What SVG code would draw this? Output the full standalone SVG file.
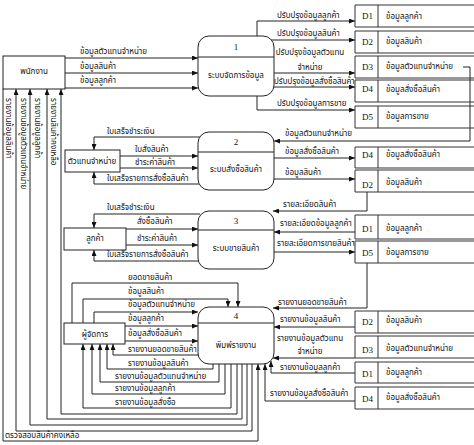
<svg xmlns="http://www.w3.org/2000/svg" width="474" height="445" viewBox="0 0 474 445">
<defs>
<marker id="ah" markerWidth="6" markerHeight="5" refX="6" refY="2.5" orient="auto" markerUnits="userSpaceOnUse"><path d="M0,0 L6,2.5 L0,5 Z" fill="#111"/></marker>
<style>
.ln{fill:none;stroke:#222;stroke-width:1}
.ar{fill:none;stroke:#222;stroke-width:1;marker-end:url(#ah)}
.box{fill:#fff;stroke:#222;stroke-width:1}
.t{font-family:"Noto Sans Thai","Noto Sans",sans-serif;font-size:8px;fill:#111}
.c{text-anchor:middle}
.d{font-family:"Liberation Serif",serif;font-size:9px;fill:#111}
.st{fill:none;stroke:#333;stroke-width:1}
</style>
</defs>
<rect width="474" height="445" fill="#fff"/>

<g id="connectors">
<!-- staff to P1 -->
<path class="ar" d="M65,58 H198"/>
<path class="ar" d="M65,73 H198"/>
<path class="ar" d="M65,88 H198"/>
<text class="t" x="80" y="54">ข้อมูลตัวแทนจำหน่าย</text>
<text class="t" x="80" y="69">ข้อมูลสินค้า</text>
<text class="t" x="80" y="83">ข้อมูลลูกค้า</text>
<!-- P1 to stores -->
<path class="ar" d="M257,36 V21 H355"/>
<path class="ar" d="M271,40 H355"/>
<path class="ar" d="M274,73 H355"/>
<path class="ar" d="M274,87 H355"/>
<path class="ar" d="M257,96 V110 H355"/>
<text class="t" x="277" y="18">ปรับปรุงข้อมูลลูกค้า</text>
<text class="t" x="277" y="36">ปรับปรุงข้อมูลสินค้า</text>
<text class="t c" x="310" y="55">ปรับปรุงข้อมูลตัวแทน</text>
<text class="t c" x="310" y="70">จำหน่าย</text>
<text class="t" x="274" y="84">ปรับปรุงข้อมูลสั่งซื้อสินค้า</text>
<text class="t" x="277" y="106">ปรับปรุงข้อมูลการขาย</text>
<!-- D3 to P2 -->
<path class="ar" d="M463,67 H470 V141 H274"/>
<text class="t" x="285" y="136">ข้อมูลตัวแทนจำหน่าย</text>
<!-- P2 to stores -->
<path class="ar" d="M274,158 H355"/>
<path class="ar" d="M274,179 H355"/>
<text class="t" x="285" y="154">ข้อมูลสั่งซื้อสินค้า</text>
<text class="t" x="285" y="175">ข้อมูลสินค้า</text>
<!-- D2 to P3 -->
<path class="ar" d="M367,192 V211 H273"/>
<text class="t" x="283" y="207">รายละเอียดสินค้า</text>
<!-- P3 stores -->
<path class="ar" d="M355,232 H274"/>
<path class="ar" d="M274,252 H355"/>
<text class="t" x="280" y="226">รายละเอียดข้อมูลลูกค้า</text>
<text class="t" x="277" y="246">รายละเอียดการขายสินค้า</text>
<!-- D5 to P4 -->
<path class="ar" d="M367,263 V308 H273"/>
<text class="t" x="278" y="305">รายงานยอดขายสินค้า</text>
<!-- stores to P4 -->
<path class="ar" d="M355,327 H274"/>
<path class="ar" d="M355,358 H273"/>
<path class="ar" d="M355,373 H271 V361"/>
<path class="ar" d="M355,401 H265 V364"/>
<text class="t" x="280" y="322">รายงานข้อมูลสินค้า</text>
<text class="t c" x="310" y="341">รายงานข้อมูลตัวแทน</text>
<text class="t c" x="310" y="354">จำหน่าย</text>
<text class="t" x="280" y="370">รายงานข้อมูลลูกค้า</text>
<text class="t" x="270" y="396">รายงานข้อมูลสั่งซื้อสินค้า</text>
<!-- agent <-> P2 -->
<path class="ar" d="M200,137 H94 V150"/>
<path class="ar" d="M120,156 H198"/>
<path class="ar" d="M120,168 H198"/>
<path class="ar" d="M199,184 H94 V172"/>
<text class="t" x="107" y="134">ใบเสร็จชำระเงิน</text>
<text class="t" x="135" y="152">ใบสั่งสินค้า</text>
<text class="t" x="135" y="165">ชำระค่าสินค้า</text>
<text class="t" x="107" y="181">ใบเสร็จรายการสั่งซื้อสินค้า</text>
<!-- customer <-> P3 -->
<path class="ar" d="M200,214 H94 V228"/>
<path class="ar" d="M126,229 H198"/>
<path class="ar" d="M126,245 H198"/>
<path class="ar" d="M199,261 H94 V250"/>
<text class="t" x="107" y="210">ใบเสร็จชำระเงิน</text>
<text class="t" x="137" y="224">สั่งซื้อสินค้า</text>
<text class="t" x="137" y="241">ชำระค่าสินค้า</text>
<text class="t" x="107" y="257">ใบเสร็จรายการสั่งซื้อสินค้า</text>
<!-- manager to P4 -->
<path class="ar" d="M72,323 V283 H238 V307"/>
<path class="ar" d="M83,323 V299 H228 V307"/>
<path class="ar" d="M94,323 V312 H198"/>
<path class="ar" d="M125,326 H198"/>
<path class="ar" d="M125,341 H198"/>
<text class="t" x="128" y="280">ยอดขายสินค้า</text>
<text class="t" x="128" y="294">ข้อมูลสินค้า</text>
<text class="t" x="128" y="307">ข้อมูลตัวแทนจำหน่าย</text>
<text class="t" x="128" y="321">ข้อมูลลูกค้า</text>
<text class="t" x="128" y="336">ข้อมูลสั่งซื้อสินค้า</text>
<!-- P4 to manager -->
<path class="ar" d="M198,355 H113 V344"/>
<path class="ar" d="M213,364 V369 H107 V344"/>
<path class="ar" d="M219,364 V382 H100 V344"/>
<path class="ar" d="M225,364 V394 H92 V344"/>
<path class="ar" d="M231,364 V408 H83 V344"/>
<text class="t" x="128" y="352">รายงานยอดขายสินค้า</text>
<text class="t" x="128" y="366">รายงานข้อมูลสินค้า</text>
<text class="t" x="115" y="379">รายงานข้อมูลตัวแทนจำหน่าย</text>
<text class="t" x="115" y="391">รายงานข้อมูลลูกค้า</text>
<text class="t" x="115" y="405">รายงานข้อมูลสั่งซื้อ</text>
<!-- P4 to staff -->
<path class="ar" d="M237,364 V414 H61 V89"/>
<path class="ar" d="M242,364 V419 H47 V89"/>
<path class="ar" d="M247,364 V425 H30 V89"/>
<path class="ar" d="M252,364 V431 H16 V89"/>
<path class="ar" d="M3,89 V441 H258 V364"/>
<text class="t" transform="translate(9,98) rotate(90)" dy="3">รายงานข้อมูลสินค้า</text>
<text class="t" transform="translate(24,98) rotate(90)" dy="3">รายงานข้อมูลตัวแทนจำหน่าย</text>
<text class="t" transform="translate(38,98) rotate(90)" dy="3">รายงานข้อมูลลูกค้า</text>
<text class="t" transform="translate(54,98) rotate(90)" dy="3">รายงานสินค้าคงเหลือ</text>
<text class="t" x="5" y="438">ตรวจสอบสินค้าคงเหลือ</text>
</g>

<g id="staff"><rect class="box" x="3" y="56" width="62" height="33"/><text class="t c" x="34" y="74">พนักงาน</text></g>
<g id="agent"><rect class="box" x="65" y="150" width="55" height="22"/><text class="t c" x="92" y="164">ตัวแทนจำหน่าย</text></g>
<g id="customer"><rect class="box" x="64" y="228" width="62" height="22"/><text class="t c" x="95" y="241">ลูกค้า</text></g>
<g id="manager"><rect class="box" x="64" y="323" width="61" height="21"/><text class="t c" x="95" y="337">ผู้จัดการ</text></g>

<g id="p1"><rect class="box" x="198" y="36" width="76" height="60" rx="11"/><line class="ln" x1="198" y1="57" x2="274" y2="57"/><text class="d c" x="236" y="50">1</text><text class="t c" x="236" y="78">ระบบจัดการข้อมูล</text></g>
<g id="p2"><rect class="box" x="198" y="132" width="76" height="58" rx="11"/><line class="ln" x1="198" y1="152" x2="274" y2="152"/><text class="d c" x="236" y="145">2</text><text class="t c" x="236" y="172">ระบบสั่งซื้อสินค้า</text></g>
<g id="p3"><rect class="box" x="198" y="211" width="76" height="58" rx="11"/><line class="ln" x1="198" y1="230" x2="274" y2="230"/><text class="d c" x="236" y="224">3</text><text class="t c" x="236" y="251">ระบบขายสินค้า</text></g>
<g id="p4"><rect class="box" x="198" y="307" width="76" height="57" rx="11"/><line class="ln" x1="198" y1="323" x2="274" y2="323"/><text class="d c" x="236" y="319">4</text><text class="t c" x="236" y="348">พิมพ์รายงาน</text></g>

<g id="s1_d1"><path class="st" d="M474,5 H355 V27 H474 M378,5 V27"/><text class="d" x="362" y="19">D1</text><text class="t" x="386" y="19">ข้อมูลลูกค้า</text></g>
<g id="s1_d2"><path class="st" d="M474,31 H355 V53 H474 M378,31 V53"/><text class="d" x="362" y="45">D2</text><text class="t" x="386" y="44">ข้อมูลสินค้า</text></g>
<g id="s1_d3"><path class="st" d="M474,56 H355 V78 H474 M378,56 V78"/><text class="d" x="362" y="70">D3</text><text class="t" x="386" y="69">ข้อมูลตัวแทนจำหน่าย</text></g>
<g id="s1_d4"><path class="st" d="M474,80 H355 V102 H474 M378,80 V102"/><text class="d" x="362" y="92">D4</text><text class="t" x="386" y="92">ข้อมูลสั่งซื้อสินค้า</text></g>
<g id="s1_d5"><path class="st" d="M474,106 H355 V128 H474 M378,106 V128"/><text class="d" x="362" y="120">D5</text><text class="t" x="386" y="119">ข้อมูลการขาย</text></g>

<g id="s2_d4"><path class="st" d="M474,147 H355 V168 H474 M378,147 V168"/><text class="d" x="362" y="158">D4</text><text class="t" x="386" y="157">ข้อมูลสั่งซื้อสินค้า</text></g>
<g id="s2_d2"><path class="st" d="M474,170 H355 V192 H474 M378,170 V192"/><text class="d" x="362" y="188">D2</text><text class="t" x="386" y="185">ข้อมูลสินค้า</text></g>

<g id="s3_d1"><path class="st" d="M474,215 H355 V239 H474 M378,215 V239"/><text class="d" x="362" y="232">D1</text><text class="t" x="386" y="231">ข้อมูลลูกค้า</text></g>
<g id="s3_d5"><path class="st" d="M474,241 H355 V263 H474 M378,241 V263"/><text class="d" x="362" y="256">D5</text><text class="t" x="386" y="255">ข้อมูลการขาย</text></g>

<g id="s4_d2"><path class="st" d="M474,311 H355 V333 H474 M378,311 V333"/><text class="d" x="362" y="325">D2</text><text class="t" x="386" y="323">ข้อมูลสินค้า</text></g>
<g id="s4_d3"><path class="st" d="M474,336 H355 V358 H474 M378,336 V358"/><text class="d" x="362" y="353">D3</text><text class="t" x="386" y="351">ข้อมูลตัวแทนจำหน่าย</text></g>
<g id="s4_d1"><path class="st" d="M474,362 H355 V383 H474 M378,362 V383"/><text class="d" x="362" y="377">D1</text><text class="t" x="386" y="375">ข้อมูลลูกค้า</text></g>
<g id="s4_d4"><path class="st" d="M474,387 H355 V409 H474 M378,387 V409"/><text class="d" x="362" y="402">D4</text><text class="t" x="386" y="400">ข้อมูลสั่งซื้อสินค้า</text></g>
</svg>
